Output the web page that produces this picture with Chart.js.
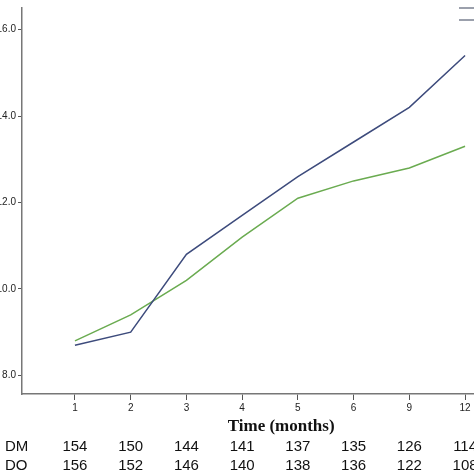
<!DOCTYPE html>
<html><head><meta charset="utf-8">
<script src="https://cdn.jsdelivr.net/npm/chart.js@4"></script>
<style>html,body{margin:0;padding:0;background:#fff}#w{width:474px;height:474px}</style>
</head><body><div id="w"><canvas id="c"></canvas></div>
<script>
const months = ["1","2","3","4","5","6","9","12"];
const dmLine = [8.7, 9.0, 10.8, 11.7, 12.6, 13.4, 14.2, 15.4];
const doLine = [8.8, 9.4, 10.2, 11.2, 12.1, 12.5, 12.8, 13.3];
const yTicks = [8, 10, 12, 14, 16];
const dmCounts = [154, 150, 144, 141, 137, 135, 126, 114];
const doCounts = [156, 152, 146, 140, 138, 136, 122, 108];

const pts = a => a.map((v, i) => ({x: i, y: v}));

const extras = {
  id: 'extras',
  afterDraw(chart) {
    const ctx = chart.ctx, xs = chart.scales.x, b = chart.chartArea.bottom;
    ctx.save();
    ctx.fillStyle = '#111';
    ctx.textAlign = 'center';
    ctx.textBaseline = 'middle';
    ctx.font = 'bold 17px "Liberation Serif", serif';
    ctx.fillText('Time (months)', xs.getPixelForValue(3.7), b + 33);
    ctx.font = '15px "Liberation Sans", Arial, sans-serif';
    ctx.textAlign = 'left';
    ctx.fillText('DM', 5, b + 53);
    ctx.fillText('DO', 5, b + 72);
    ctx.textAlign = 'center';
    dmCounts.forEach((v, i) => ctx.fillText(String(v), xs.getPixelForValue(i), b + 53));
    doCounts.forEach((v, i) => ctx.fillText(String(v), xs.getPixelForValue(i), b + 72));
    // legend line stubs (cut off at right edge)
    ctx.strokeStyle = '#7a8090'; ctx.lineWidth = 1.5;
    ctx.beginPath(); ctx.moveTo(459, 8); ctx.lineTo(474, 8); ctx.stroke();
    ctx.beginPath(); ctx.moveTo(459, 20); ctx.lineTo(474, 20); ctx.stroke();
    ctx.restore();
  }
};

new Chart(document.getElementById('c'), {
  type: 'line',
  data: { datasets: [
    { label: 'DM', data: pts(dmLine), borderColor: '#3d4b7c', borderWidth: 1.5, pointRadius: 0, tension: 0 },
    { label: 'DO', data: pts(doLine), borderColor: '#6aab50', borderWidth: 1.5, pointRadius: 0, tension: 0 }
  ]},
  options: {
    responsive: true, maintainAspectRatio: false, animation: false,
    layout: { padding: 0 },
    plugins: { legend: { display: false }, tooltip: { enabled: false } },
    scales: {
      x: {
        type: 'linear', min: -0.95, max: 7.16,
        afterFit(s) { s.height = 80; },
        afterBuildTicks(s) { s.ticks = months.map((m, i) => ({value: i})); },
        grid: { display: true, drawOnChartArea: false, drawTicks: true, tickLength: 6, color: '#555' },
        border: { color: '#777', width: 1.5 },
        ticks: { callback: (v) => months[v], color: '#222', font: { size: 10, family: 'Liberation Sans' }, padding: 2, maxRotation: 0, autoSkip: false }
      },
      y: {
        min: 7.57, max: 16.5,
        afterFit(s) { s.width = 22; },
        afterBuildTicks(s) { s.ticks = yTicks.map(v => ({value: v})); },
        grid: { display: true, drawOnChartArea: false, drawTicks: true, tickLength: 4, color: '#555' },
        border: { color: '#777', width: 1.5 },
        ticks: { callback: v => v.toFixed(1), color: '#222', font: { size: 10, family: 'Liberation Sans' }, padding: 2 }
      }
    }
  },
  plugins: [extras]
});
</script></body></html>
